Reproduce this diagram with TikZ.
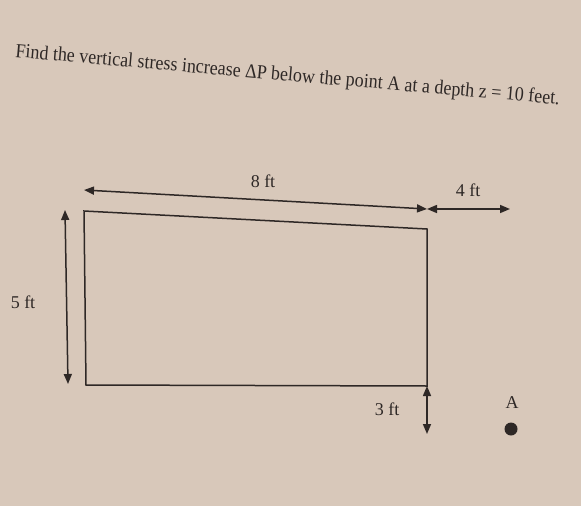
\documentclass[tikz,border=0pt]{standalone}
\usepackage{fontspec}
\setmainfont{Liberation Serif}
\usepackage{xcolor}
\usetikzlibrary{arrows.meta}
\definecolor{paper}{RGB}{216,200,186}
\definecolor{inkcol}{RGB}{46,40,38}

\begin{document}
\begin{tikzpicture}[x=1pt,y=-1pt,
  ink/.style={draw=inkcol,line width=1.5pt},
  dimline/.style={ink,{Triangle[length=10pt,width=8pt]}-{Triangle[length=10pt,width=8pt]}},
  dimlabel/.style={text=inkcol,font=\fontsize{18}{20}\selectfont,inner sep=0pt}]
\fill [paper] (0,0) rectangle (581,506);
\useasboundingbox (0,0) rectangle (581,506);
% question
\node [text=inkcol,font=\fontsize{20}{24}\selectfont,inner sep=0pt,anchor=base west,rotate=-5,xscale=0.9] (question) at (15,57)
  {Find the vertical stress increase ΔP below the point A at a depth z = 10 feet.};
% loaded area
\coordinate (tl) at (84,211);
\coordinate (tr) at (427,229);
\coordinate (br) at (427,386);
\coordinate (bl) at (86,385);
\draw [ink] (tl) -- (tr) -- (br) -- (bl) -- cycle;
% dimensions
\coordinate (l8) at (84,190);
\coordinate (m) at (427,209);
\coordinate (r4) at (510,209);
\coordinate (t5) at (65,210);
\coordinate (b5) at (68,384);
\coordinate (b3) at (427,434);
\draw [dimline] (l8) -- (m);
\draw [dimline] (m) -- (r4);
\draw [dimline] (t5) -- (b5);
\draw [dimline] (br) -- (b3);
\node [dimlabel] (len8) at (263,181) {8 ft};
\node [dimlabel] (len4) at (468,190) {4 ft};
\node [dimlabel] (len5) at (23,302) {5 ft};
\node [dimlabel] (len3) at (387,409) {3 ft};
% point A
\node [dimlabel] (labA) at (512,403) {A};
\fill [inkcol] (511,429) circle (6.5pt) coordinate (ptA);
\end{tikzpicture}
\end{document}
